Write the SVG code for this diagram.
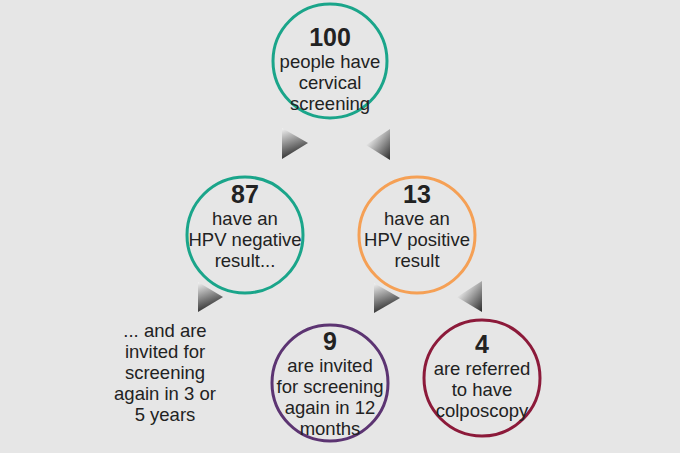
<svg xmlns="http://www.w3.org/2000/svg" width="680" height="453" viewBox="0 0 680 453">
<defs>
<linearGradient id="gr" x1="0" y1="0" x2="0.3" y2="1"><stop offset="0" stop-color="#f4f4f4"/><stop offset="1" stop-color="#2a2a2a"/></linearGradient>
<linearGradient id="gl" x1="1" y1="1" x2="0.2" y2="0.2"><stop offset="0" stop-color="#2a2a2a"/><stop offset="1" stop-color="#f4f4f4"/></linearGradient>
<style>
text{font-family:"Liberation Sans",Arial,sans-serif;fill:#222;text-anchor:middle;font-size:18.5px}
.n{font-weight:bold;font-size:25px}
circle{fill:none;stroke-width:3}
</style>
</defs>
<rect width="680" height="453" fill="#e6e6e6"/>
<g id="connectors">
<polygon points="282,128 308,143 282,159" fill="url(#gr)"/>
<polygon points="390,129 366,145 390,160" fill="url(#gl)"/>
<polygon points="198,282 223,297 198,312" fill="url(#gr)"/>
<polygon points="374,283 400,298 374,313" fill="url(#gr)"/>
<polygon points="482,281 457,297 482,312" fill="url(#gl)"/>
</g>
<g id="n100"><circle cx="330" cy="61" r="57" stroke="#1aa58a"/>
<text x="330" y="46" class="n">100</text><text x="330" y="68">people have</text><text x="330" y="89">cervical</text><text x="330" y="110">screening</text></g>
<g id="n87"><circle cx="245" cy="235" r="58" stroke="#1aa58a"/>
<text x="245" y="203" class="n">87</text><text x="245" y="225">have an</text><text x="245" y="246">HPV negative</text><text x="245" y="267">result...</text></g>
<g id="n13"><circle cx="417" cy="235" r="58" stroke="#f5a055"/>
<text x="417" y="203" class="n">13</text><text x="417" y="225">have an</text><text x="417" y="246">HPV positive</text><text x="417" y="267">result</text></g>
<g id="nagain"><text x="165" y="337">... and are</text><text x="165" y="358">invited for</text><text x="165" y="379">screening</text><text x="165" y="400">again in 3 or</text><text x="165" y="421">5 years</text></g>
<g id="n9"><circle cx="330" cy="383" r="58" stroke="#5c3472"/>
<text x="330" y="350" class="n">9</text><text x="330" y="372">are invited</text><text x="330" y="393">for screening</text><text x="330" y="414">again in 12</text><text x="330" y="435">months</text></g>
<g id="n4"><circle cx="482" cy="378" r="58" stroke="#8c1a3a"/>
<text x="482" y="353" class="n">4</text><text x="482" y="375">are referred</text><text x="482" y="396">to have</text><text x="482" y="417">colposcopy</text></g>
</svg>
